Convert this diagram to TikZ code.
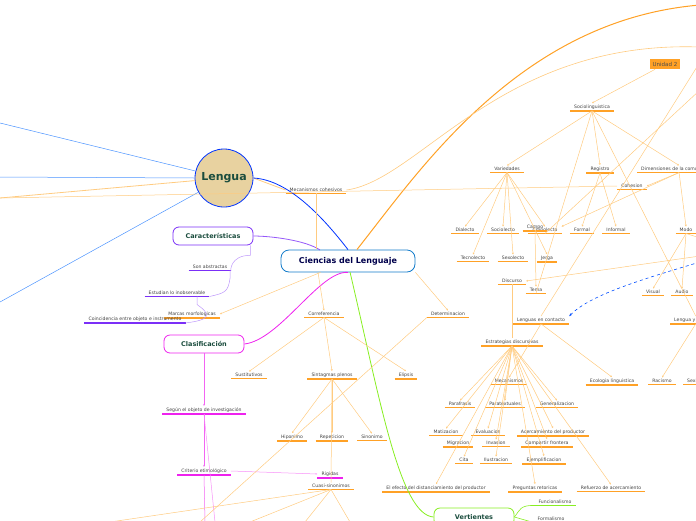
\documentclass[tikz,border=0pt]{standalone}
\usepackage{fontspec}
\setmainfont{DejaVu Sans}
\usetikzlibrary{arrows.meta}
\definecolor{og}{HTML}{FFA126}
\definecolor{lo}{HTML}{FFCB80}
\definecolor{pu}{HTML}{7B2FF7}
\definecolor{mg}{HTML}{EE22EE}
\definecolor{gr}{HTML}{88EE22}
\definecolor{dg}{HTML}{1B4D3E}
\tikzset{
 lab/.style={font=\fontsize{4.6}{5}\selectfont, text=black!75, inner xsep=4pt, inner ysep=1.5pt,
   append after command={(\tikzlastnode.south west) edge[draw=#1,line width=1.4pt] (\tikzlastnode.south east)}},
 lab/.default=og,
 c/.style={draw=lo,line width=0.5pt,-{Stealth[length=2pt,width=2pt]}},
 cn/.style={draw=lo,line width=0.5pt},
 bx/.style={draw=#1,rounded corners=6pt,line width=0.8pt,fill=white,font=\bfseries\fontsize{6.5}{7}\selectfont,text=dg,minimum width=80pt,minimum height=18pt},
}
\begin{document}
\begin{tikzpicture}[x=1pt,y=-1pt]
\useasboundingbox (0,0) rectangle (696,520);
\clip (0,0) rectangle (696,520);
% coordinates at edges
\coordinate (eL1) at (0,123); \coordinate (eL2) at (0,177); \coordinate (eL3) at (0,198); \coordinate (eL4) at (0,302);
\coordinate (eTR) at (700,5); \coordinate (eR1) at (700,47); \coordinate (eR2) at (700,62); \coordinate (eR3) at (700,90);
\coordinate (eR4) at (700,256); \coordinate (eR5) at (700,262); \coordinate (eR6) at (700,238);
\coordinate (eB1) at (110,522); \coordinate (eB2) at (200,522); \coordinate (eB3) at (250,522); \coordinate (eB4) at (305,522);
\coordinate (eB5) at (350,522); \coordinate (eB6) at (205,522); \coordinate (eB7) at (215,522);
\coordinate (cdltop) at (320,250);

% main nodes
\node[circle,draw=blue!80!cyan,line width=0.8pt,fill={rgb,255:red,232;green,210;blue,160},minimum size=58pt,font=\bfseries\fontsize{11}{12}\selectfont,text=dg] (lengua) at (224,178) {Lengua};
\node[draw=cyan!60!blue,rounded corners=8pt,line width=0.8pt,fill=white,minimum width=134pt,minimum height=22pt,font=\bfseries\fontsize{8}{9}\selectfont,text=blue!30!black] (cdl) at (348,261) {Ciencias del Lenguaje};
\node[bx=pu] (car) at (213,236) {Características};
\node[bx=mg] (cla) at (204,344) {Clasificación};
\node[bx=gr] (ver) at (474,517) {Vertientes};
\node[fill=og,font=\fontsize{5.5}{6}\selectfont,text=black!70,inner sep=3pt] (u2) at (665,64) {Unidad 2};

% orange labels
\node[lab] (soc) at (592,107) {Sociolinguistica};
\node[lab] (var) at (507,169) {Variedades};
\node[lab] (reg) at (600,169) {Registro};
\node[lab,anchor=west] (dim) at (637,169) {Dimensiones de la comunicación};
\node[lab] (coh) at (632,186) {Cohesion};
\node[lab] (dia) at (465,230) {Dialecto};
\node[lab] (sol) at (503,230) {Sociolecto};
\node[lab] (cro) at (545,230) {Cronolecto};
\node[lab] (cam) at (535,227) {Campo};
\node[lab] (for) at (582,230) {Formal};
\node[lab] (inf) at (616,230) {Informal};
\node[lab] (mod) at (686,230) {Modo};
\node[lab] (tec) at (473,258) {Tecnolecto};
\node[lab] (sex) at (513,258) {Sexolecto};
\node[lab] (jer) at (547,258) {Jerga};
\node[lab] (dis) at (512,281) {Discurso};
\node[lab] (tem) at (536,290) {Tema};
\node[lab] (vis) at (653,292) {Visual};
\node[lab] (aud) at (682,292) {Audio};
\node[lab,anchor=west] (len2) at (670,320) {Lengua y sociedad};
\node[lab] (lec) at (541,320) {Lenguas en contacto};
\node[lab] (det) at (448,314) {Determinacion};
\node[lab] (est) at (512,342) {Estrategias discursivas};
\node[lab] (mec) at (509,381) {Mecanismos};
\node[lab] (eco) at (612,381) {Ecologia linguistica};
\node[lab] (rac) at (662,381) {Racismo};
\node[lab,anchor=west] (sxm) at (683,381) {Sexismo};
\node[lab] (par) at (460,404) {Parafrasis};
\node[lab] (pat) at (505,404) {Paratextuales};
\node[lab] (gen) at (557,404) {Generalizacion};
\node[lab] (mat) at (446,432) {Matizacion};
\node[lab] (eva) at (488,432) {Evaluacion};
\node[lab] (ace) at (553,432) {Acercamiento del productor};
\node[lab] (mig) at (458,443) {Migracion};
\node[lab] (inv) at (496,443) {Invasion};
\node[lab] (com) at (547,443) {Compartir frontera};
\node[lab] (cit) at (464,460) {Cita};
\node[lab] (ilu) at (496,460) {Ilustracion};
\node[lab] (eje) at (544,460) {Ejemplificacion};
\node[lab] (efe) at (436,488) {El efecto del distanciamiento del productor};
\node[lab] (pre) at (535,488) {Preguntas retoricas};
\node[lab] (ref) at (611,488) {Refuerzo de acercamiento};
\node[lab] (mco) at (316,190) {Mecanismos cohesivos};
\node[lab] (cor) at (324,314) {Correferencia};
\node[lab] (mmo) at (192,314) {Marcas morfologicas};
\node[lab] (sus) at (249,375) {Sustitutivos};
\node[lab] (sin) at (332,375) {Sintagmas plenos};
\node[lab] (eli) at (406,375) {Elipsis};
\node[lab] (hip) at (292,437) {Hiponimo};
\node[lab] (rep) at (332,437) {Repeticion};
\node[lab] (sno) at (372,437) {Sinonimo};
\node[lab=mg] (rig) at (330,474) {Rigidas};
\node[lab] (cua) at (331,486) {Cuasi-sinonimos};
\node[lab=gr] (fun) at (555,502) {Funcionalismo};
\node[lab=gr] (fmo) at (551,519) {Formalismo};
% purple / magenta labels
\node[lab=pu] (abs) at (210,267) {Son abstractas};
\node[lab=pu] (ino) at (177,293) {Estudian lo inobservable};
\node[lab=pu] (coi) at (135,319) {Coincidencia entre objeto e instrumento};
\node[lab=mg] (seg) at (204,410) {Según el objeto de investigación};
\node[lab=mg] (cri) at (204,471) {Criterio etimológico};

% main branches
\draw[blue!60!cyan!70,line width=0.5pt] (lengua) -- (eL1);
\draw[blue!60!cyan!70,line width=0.5pt] (lengua.west) -- (eL2);
\draw[blue!60!cyan!70,line width=0.5pt] (lengua) -- (eL4);
\draw[lo,line width=0.8pt] (lengua) -- (eL3);
\draw[lo,line width=0.8pt] (lengua.east) -- (mco.west);
\draw[blue!80!cyan,line width=0.8pt] (lengua.east) .. controls (290,180) and (325,220) .. (cdl.north);
\draw[pu!80,line width=0.8pt] (car.east) .. controls (270,236) and (305,240) .. (cdltop);
\draw[mg,line width=0.8pt] (cla.east) .. controls (280,340) and (320,270) .. (cdl.south);
\draw[og,line width=1pt] (357,249.5) .. controls (420,170) and (520,20) .. (eTR);
\draw[gr,line width=0.8pt] (350,272) .. controls (380,400) and (400,515) .. (ver.west);
\draw[gr,line width=0.6pt] (ver.east) .. controls (520,510) and (520,505) .. (fun.south west);
\draw[gr,line width=0.6pt] (ver.east) -- (fmo.south west);
\draw[lo,line width=0.6pt] (eR1) .. controls (500,40) and (420,180) .. (mco.east);
% purple tree
\draw[pu!50,line width=0.5pt] (car.south east) ++(-3,0) -- ++(0,10) .. controls (230,255) and (230,272) .. (abs.south east);
\draw[pu!50,line width=0.5pt] (abs.south) ++(20,0) -- ++(0,8) .. controls (228,292) and (225,293) .. (ino.south east);
\draw[pu!50,line width=0.5pt] (ino.south) ++(20,0) -- ++(0,8) .. controls (212,315) and (210,320) .. (coi.south east);
% magenta
\draw[mg!70,line width=0.5pt,-{Stealth[length=2pt]}] (cla.south) -- (seg.north);
\draw[mg!70,line width=0.5pt,-{Stealth[length=2pt]}] (seg.south) -- (cri.north);
\draw[mg!50,line width=0.5pt,-{Stealth[length=2pt]}] (cri.east) -- (rig.west);
\draw[mg!50,line width=0.5pt] (seg.south) -- (eB7);
\draw[mg!70,line width=0.5pt] (cri.south) -- (eB6);
% Ciencias connections
\draw[c] (cdl) -- (mmo.east);
\draw[c] (cdl.south) ++(-30,0) -- (cor.north);
\draw[c] (cdl.south east) -- (det.north);
\draw[cn] (mco.south) -- (316,249);
\draw[c] (cor.south) -- (sus.north);
\draw[c] (cor.south) -- (sin.north);
\draw[c] (cor.south) -- (eli.north);
\draw[c] (sin.south) -- (hip.north);
\draw[c] (sin.south) -- (rep.north);
\draw[c] (sin.south) -- (sno.north);
\draw[cn] (sin.south) -- (cua.north);
\draw[cn] (det.south west) -- (eB2);
\draw[cn] (cua.south) -- (eB1);
\draw[cn] (cua.south) -- (eB3);
\draw[cn] (cua.south) -- (eB4);
\draw[cn] (cua.south) -- (eB5);
% top right
\draw[c] (u2) -- (soc.north);
\draw[c] (soc.south) -- (var.north);
\draw[c] (soc.south) -- (reg.north);
\draw[c] (soc.south) -- (dim.north);
\draw[cn] (soc.south) -- (len2.north);
\draw[cn] (soc.south) -- (tem.south);
\draw[cn] (eR2) -- (lec.north);
\draw[cn] (eR3) -- (cro.south);
\foreach \t in {dia,sol,cro,tec,sex,jer} \draw[c] (var.south) -- (\t.north);
\draw[c] (reg.south) -- (for.north);
\draw[c] (reg.south) -- (inf.north);
\draw[c] (dim.south) -- (mod.north);
\draw[c] (dim.south) -- (coh.east);
\draw[c] (dim.south) -- (cro.north east);
\draw[cn] (coh.west) -- (eL3);
\draw[c] (cam.south) -- (tem.north);
\draw[c] (mod.south) -- (vis.north);
\draw[c] (mod.south) -- (aud.north);
\draw[cn] (mod.south) -- (eR6);
\draw[c] (eR4) -- (dis.east);
\draw[cn] (dis.south) -- (est.north);
\draw[blue!70!cyan,dashed,line width=0.6pt,-{Stealth[length=3pt]}] (eR5) .. controls (640,280) and (590,295) .. (lec.north east);
\draw[c] (lec.south) -- (mec.north);
\draw[c] (lec.south) -- (eco.north);
\draw[c] (len2.south) -- (rac.north);
\foreach \t in {par,pat,gen,mat,eva,ace,inv,com,cit,ilu,eje,efe,pre,ref} \draw[c] (est.south) -- (\t.north);
\end{tikzpicture}
\end{document}
